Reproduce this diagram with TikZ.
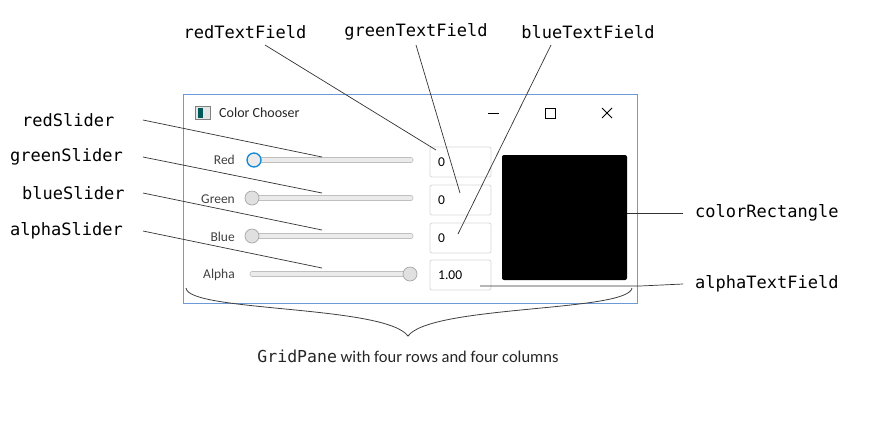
\documentclass[tikz,border=0pt]{standalone}
\usepackage{fontspec}
\setmainfont{Carlito}
\newfontfamily\monof{DejaVu Sans Mono}
\begin{document}
\begin{tikzpicture}[x=1pt,y=-1pt,
  callout/.style={font=\monof\fontsize{17}{20}\selectfont,inner sep=0pt,text=black},
  lead/.style={draw=black!80,line width=0.7pt},
  ui/.style={font=\fontsize{13.5}{16}\selectfont,text=black!75,inner sep=0pt},
  field/.style={draw=black!15,line width=0.8pt,rounded corners=2pt,fill=white},
  track/.style={draw=black!25,fill=black!8,line width=0.6pt,rounded corners=2pt},
  thumb/.style={circle,draw=black!35,fill=black!12,minimum size=14pt,inner sep=0pt,line width=0.7pt}]
\useasboundingbox (0,0) rectangle (874,424);
\fill[white] (0,0) rectangle (874,424);
% window
\draw[draw=cyan!50!blue!60,line width=0.8pt,fill=white] (183,94) rectangle (637,303);
\node[draw=black!50,fill=black!10,minimum width=15pt,minimum height=13pt,inner sep=0pt] (icon) at (203,113) {};
\fill[teal!70!black] (198,108) rectangle (203,118);
\node[ui,anchor=west,text=black!85,font=\fontsize{14}{16}\selectfont] (title) at (219,113) {Color Chooser};
\draw[line width=0.9pt] (488,113) -- (499,113);
\node[draw,line width=0.9pt,minimum size=10pt,inner sep=0pt] (maxb) at (550,113) {};
\draw[line width=0.9pt] (602,108) -- (612,118) (602,118) -- (612,108);
% labels
\node[ui,anchor=east] (lr) at (235,160) {Red};
\node[ui,anchor=east] (lg) at (235,199) {Green};
\node[ui,anchor=east] (lb) at (235,237) {Blue};
\node[ui,anchor=east] (la) at (235,275) {Alpha};
% sliders
\foreach \y/\n in {160/r,198/g,236/b,274/a}{
  \draw[track] (250,\y-2.5) rectangle (413,\y+2.5);
}
\node[thumb,draw=cyan!70!blue,line width=1.3pt,fill=black!8] (tr) at (254,160) {};
\node[thumb] (tg) at (252,198) {};
\node[thumb] (tb) at (252,236) {};
\node[thumb] (ta) at (410,274) {};
% fields
\draw[field] (430,147) rectangle (491,177);
\draw[field] (430,185) rectangle (491,215);
\draw[field] (430,223) rectangle (491,253);
\draw[field] (430,260) rectangle (491,290);
\node[ui,anchor=west,text=black] (fr) at (438,162) {0};
\node[ui,anchor=west,text=black] (fg) at (438,200) {0};
\node[ui,anchor=west,text=black] (fb) at (438,238) {0};
\node[ui,anchor=west,text=black] (fa) at (438,275) {1.00};
% color rect
\fill[black,rounded corners=2pt] (502,155) rectangle (627,280);
\coordinate (crE) at (627,213);
% callouts left
\node[callout,anchor=west] (cs1) at (22,120) {redSlider};
\node[callout,anchor=west] (cs2) at (10,157) {greenSlider};
\node[callout,anchor=west] (cs3) at (22,193) {blueSlider};
\node[callout,anchor=west] (cs4) at (10,231) {alphaSlider};
\coordinate (p1) at (322,157);
\coordinate (p2) at (322,193);
\coordinate (p3) at (322,230);
\coordinate (p4) at (322,268);
\draw[lead] (143,120) -- (p1);
\draw[lead] (143,157) -- (p2);
\draw[lead] (143,193) -- (p3);
\draw[lead] (143,231) -- (p4);
% callouts top
\node[callout] (ct1) at (245,32) {redTextField};
\node[callout] (ct2) at (416,32) {greenTextField};
\node[callout] (ct3) at (588,32) {blueTextField};
\coordinate (q1) at (436,150);
\coordinate (q2) at (460,193);
\coordinate (q3) at (458,234);
\draw[lead] (265,45) -- (q1);
\draw[lead] (416,45) -- (q2);
\draw[lead] (551,45) -- (q3);
% callouts right
\node[callout,anchor=west] (cr1) at (695,213) {colorRectangle};
\node[callout,anchor=west] (cr2) at (695,284) {alphaTextField};
\draw[lead] (crE) -- (683,213);
\coordinate (q4) at (480,286);
\draw[lead] (q4) -- (640,286) -- (683,284);
% brace
\coordinate (bt) at (408,336);
\draw[line width=0.8pt,black!75] (186,288) .. controls (188,312) and (385,305) .. (bt) .. controls (431,305) and (628,312) .. (632,288);
\node[inner sep=0pt,font=\fontsize{16.5}{19}\selectfont,text=black!85] (cap) at (408,356) {{\monof GridPane} with four rows and four columns};
\end{tikzpicture}
\end{document}
